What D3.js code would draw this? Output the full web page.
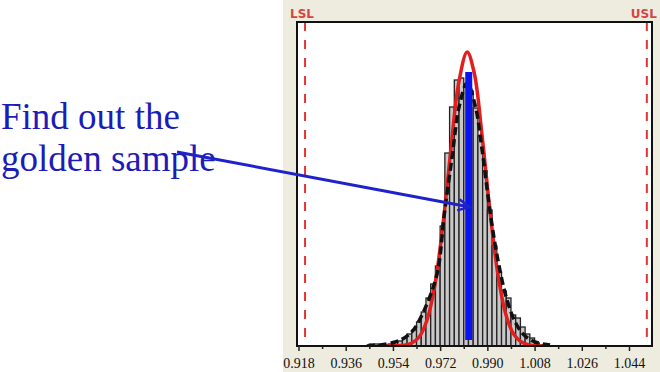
<!DOCTYPE html>
<html>
<head>
<meta charset="utf-8">
<script src="https://cdn.jsdelivr.net/npm/d3@7"></script>
<style>
  html, body { margin: 0; padding: 0; background: #fff; }
  svg { display: block; }
</style>
</head>
<body>
<svg id="chart" width="660" height="372"></svg>
<script>
// ---------------- data ----------------
const tickLabels = ["0.918", "0.936", "0.954", "0.972", "0.990", "1.008", "1.026", "1.044"];
const binStart = 0.945;
const binWidth = 0.0018;
const binCounts = [2, 2, 1, 1, 2, 4, 5, 8, 12, 16, 24, 34, 48, 62, 80, 120, 193, 239, 266, 268,
                   262, 255, 238, 210, 175, 136, 100, 74, 55, 48, 31, 28, 19, 12, 8, 3, 1];
// fitted normal curve (red)
const fitX = [0.952, 0.955, 0.958, 0.961, 0.964, 0.967, 0.970, 0.973, 0.976, 0.979, 0.9823,
              0.985, 0.988, 0.991, 0.994, 0.997, 1.000, 1.003, 1.006, 1.009, 1.012];
const fitY = [0, 0.2, 0.7, 2.7, 9, 26, 61, 120, 194, 262, 294, 273, 210, 135, 72, 32, 12, 4, 1, 0.2, 0];
// density curve (black dashed)
const densX = [0.9440, 0.9492, 0.9549, 0.9583, 0.9618, 0.9663, 0.9709, 0.9736, 0.9766, 0.9793, 0.9823,
               0.9854, 0.9880, 0.9911, 0.9941, 0.9975, 1.0010, 1.0044, 1.0082, 1.0139];
const densY = [0, 1, 4, 8, 16, 38, 73, 132, 190, 240, 263, 240, 196, 133, 85, 46, 22, 10, 4, 1];
const specLabels = ["LSL", "USL"];
const specValues = [0.9205, 1.0508];
const goldenValue = 0.9829;
const goldenHeight = 274;
const annotation = ["Find out the", "golden sample"];

// ---------------- layout ----------------
const svg = d3.select("#chart");
const frame = { left: 297, right: 652, top: 22, bottom: 346 };

const x = d3.scaleLinear().domain([0.918, 1.044]).range([298.5, 629]);
const y = d3.scaleLinear().domain([0, 324]).range([frame.bottom, frame.top]);

// beige panel
svg.append("rect").attr("x", 283).attr("y", 0).attr("width", 377).attr("height", 372).attr("fill", "#eeebdf");
// plot area
svg.append("rect").attr("x", frame.left).attr("y", frame.top)
  .attr("width", frame.right - frame.left).attr("height", frame.bottom - frame.top)
  .attr("fill", "#ffffff");

const clip = svg.append("defs").append("clipPath").attr("id", "plotclip");
clip.append("rect").attr("x", frame.left).attr("y", frame.top)
  .attr("width", frame.right - frame.left).attr("height", frame.bottom - frame.top);

const plot = svg.append("g").attr("clip-path", "url(#plotclip)");

// spec limit lines
specValues.forEach((v, i) => {
  plot.append("line")
    .attr("x1", x(v)).attr("x2", x(v))
    .attr("y1", frame.top).attr("y2", frame.bottom)
    .attr("stroke", "#e03535").attr("stroke-width", 2).attr("stroke-dasharray", "9,9");
  svg.append("text")
    .attr("x", x(v) - 3).attr("y", 18)
    .attr("text-anchor", "middle")
    .attr("font-family", "DejaVu Sans, sans-serif").attr("font-size", 12).attr("font-weight", "bold")
    .attr("fill", "#d64545").text(specLabels[i]);
});

// histogram bars
const bins = binCounts.map((c, i) => ({ x0: binStart + i * binWidth, x1: binStart + (i + 1) * binWidth, c }));
plot.selectAll("rect.bar").data(bins).enter().append("rect")
  .attr("class", "bar")
  .attr("x", d => x(d.x0))
  .attr("width", d => x(d.x1) - x(d.x0))
  .attr("y", d => y(d.c))
  .attr("height", d => y(0) - y(d.c))
  .attr("fill", "#c8c8c8").attr("stroke", "#222").attr("stroke-width", 1.3);

// red fitted curve
const line = d3.line().x(d => x(d[0])).y(d => y(d[1])).curve(d3.curveCatmullRom);
plot.append("path").datum(fitX.map((v, i) => [v, fitY[i]]))
  .attr("d", line).attr("fill", "none").attr("stroke", "#e31e1e").attr("stroke-width", 3.5);

// black dashed density
plot.append("path").datum(densX.map((v, i) => [v, densY[i]]))
  .attr("d", line).attr("fill", "none").attr("stroke", "#111").attr("stroke-width", 3.5)
  .attr("stroke-dasharray", "8,4");

// golden sample bar
const gw = 7;
plot.append("rect")
  .attr("x", x(goldenValue) - gw / 2).attr("width", gw)
  .attr("y", y(goldenHeight)).attr("height", y(6) - y(goldenHeight))
  .attr("fill", "#0a14f0");

// frame
svg.append("rect").attr("x", frame.left).attr("y", frame.top)
  .attr("width", frame.right - frame.left).attr("height", frame.bottom - frame.top)
  .attr("fill", "none").attr("stroke", "#111").attr("stroke-width", 2);

// x axis
const majorVals = tickLabels.map(Number);
const minorVals = majorVals.slice(0, -1).map(v => v + 0.009);
const axisG = svg.append("g").attr("transform", `translate(0,${frame.bottom})`);
axisG.call(d3.axisBottom(x).tickValues(majorVals).tickFormat((d, i) => tickLabels[i]).tickSize(5).tickPadding(7));
axisG.select(".domain").remove();
axisG.selectAll(".tick line").attr("stroke", "#222").attr("stroke-width", 1.5);
axisG.selectAll(".tick text")
  .attr("font-family", "Liberation Serif, serif").attr("font-size", 14).attr("fill", "#111");
const minorG = svg.append("g").attr("transform", `translate(0,${frame.bottom})`);
minorG.call(d3.axisBottom(x).tickValues(minorVals).tickFormat("").tickSize(3));
minorG.select(".domain").remove();
minorG.selectAll(".tick line").attr("stroke", "#222").attr("stroke-width", 1.5);

// annotation text
const txt = svg.append("text")
  .attr("font-family", "Liberation Serif, Times New Roman, serif")
  .attr("font-size", 37).attr("fill", "#1c1cb8");
txt.append("tspan").attr("x", 1).attr("y", 129).text(annotation[0]);
txt.append("tspan").attr("x", 1).attr("y", 171).text(annotation[1]);

// arrow
const ax0 = 177, ay0 = 152;
const ax1 = x(goldenValue) + 1, ay1 = y(139);
const ang = Math.atan2(ay1 - ay0, ax1 - ax0);
svg.append("line").attr("x1", ax0).attr("y1", ay0).attr("x2", ax1).attr("y2", ay1)
  .attr("stroke", "#1e22cc").attr("stroke-width", 3);
const hl = 13, ha = 0.45;
svg.append("path")
  .attr("d", `M${ax1 - hl * Math.cos(ang - ha)},${ay1 - hl * Math.sin(ang - ha)} L${ax1},${ay1} L${ax1 - hl * Math.cos(ang + ha)},${ay1 - hl * Math.sin(ang + ha)}`)
  .attr("fill", "none").attr("stroke", "#1e22cc").attr("stroke-width", 2.5);
</script>
</body>
</html>
